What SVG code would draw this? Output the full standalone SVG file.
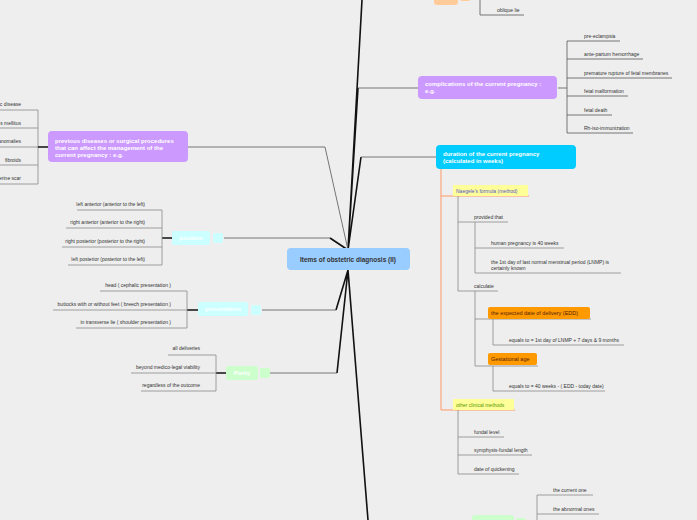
<svg xmlns="http://www.w3.org/2000/svg" width="697" height="520" viewBox="0 0 697 520">
<style>
text{font-family:"Liberation Sans",Arial,sans-serif;font-size:5px;fill:#333}
.w{fill:#fff;font-weight:bold;font-size:6px}
.l{fill:none;stroke:#555;stroke-width:0.8}
.g{fill:none;stroke:#888;stroke-width:0.8}
.d{fill:none;stroke:#111;stroke-width:1.6}
.o{fill:none;stroke:#ff9966;stroke-width:1}
.e{text-anchor:end}
</style>
<rect width="697" height="520" fill="#eeeeee"/>
<g id="connectors">
<path class="d" d="M348 250 L362 0 M348 250 L358 88 M348 250 L361 157 M348 250 L330 238 M348 270 L336 310 M348 270 L337 373 M348 270 L368 520"/>
<path class="l" d="M348 250 L325 147 L188 147 M330 238 L224 238 M336 310 L262 310 M337 373 L270 373 M358 88 L418 88 M361 157 L436 157"/>
<path class="l" d="M480 0 V15 H524"/>
<path class="l" d="M558 88 H567 M567 41 V133 M567 41 H620 M567 59 H643 M567 78 H672 M567 96 H628 M567 115 H612 M567 133 H633"/>
<path class="o" d="M441 169 V410 M441 196 H529 M441 410 H515"/>
<path class="g" d="M458 196 V291 M458 222 H508 M475 222 V273 M475 248 H564 M475 273 H621 M458 291 H498 M475 291 V366 M475 319 H591 M493 319 V345 M493 345 H624 M475 366 H538 M493 366 V391 M493 391 H605"/>
<path class="g" d="M458 410 V474 M458 437 H504 M458 455 H532 M458 474 H519"/>
<path class="g" d="M537 495 V520 M537 495 H593 M537 514 H599"/>
<path class="g" d="M38 110 V184 M0 110 H38 M0 128 H38 M0 147 H38 M0 165 H38 M0 184 H38"/>
<path class="d" d="M38 147 H48 M162 238 H172 M187 310 H198 M216 373 H226"/>
<path class="g" d="M162 210 V265 M77 210 H162 M66 228 H162 M62 247 H162 M68 265 H162"/>
<path class="g" d="M187 291 V328 M100 291 H187 M53 310 H187 M76 328 H187"/>
<path class="g" d="M216 355 V391 M168 355 H216 M131 373 H216 M141 391 H216"/>
</g>
<g id="center"><rect x="287" y="248" width="123" height="22" rx="4" fill="#99ccff"/><text x="348" y="262" text-anchor="middle" style="font-size:6.5px;font-weight:bold">Items of obstetric diagnosis (II)</text></g>
<g id="top"><rect x="434" y="-10" width="24" height="15" rx="3" fill="#ffcc99"/><rect x="460" y="-6" width="10" height="7" rx="2" fill="#ffcc99"/><text x="497" y="12">oblique lie</text></g>
<g id="complications"><rect x="418" y="76" width="139" height="23" rx="4" fill="#cc99ff"/><text class="w" x="425" y="86">complications of the current pregnancy :</text><text class="w" x="425" y="93">e.g.</text>
<text x="584" y="38">pre-eclampsia</text><text x="584" y="56">ante-partum hemorrhage</text><text x="584" y="75">premature rupture of fetal membranes</text><text x="584" y="93">fetal malformation</text><text x="584" y="112">fetal death</text><text x="584" y="130">Rh-iso-immunization</text></g>
<g id="duration"><rect x="436" y="145" width="140" height="24" rx="4" fill="#00ccff"/><text class="w" x="443" y="156">duration of the current pregnancy</text><text class="w" x="443" y="163">(calculated in weeks)</text></g>
<g id="naegele"><rect x="453" y="185" width="75" height="11" fill="#ffff99"/><text x="456" y="193" style="fill:#5555cc">Naegele's formula (method)</text>
<text x="474" y="219">provided that</text><text x="491" y="245">human pregnancy is 40 weeks</text><text x="491" y="264">the 1st day of last normal menstrual period (LNMP) is</text><text x="491" y="270">certainly known</text><text x="474" y="288">calculate</text>
<rect x="488" y="307" width="102" height="12" rx="2" fill="#ff9900"/><text x="491" y="315" style="font-size:5.5px;fill:#552200">the expected date of delivery (EDD)</text><text x="509" y="342">equals to = 1st day of LNMP + 7 days &amp; 9 months</text>
<rect x="488" y="353" width="49" height="12" rx="2" fill="#ff9900"/><text x="491" y="361" style="font-size:5.5px;fill:#552200">Gestational age</text><text x="509" y="388">equals to = 40 weeks - ( EDD - today date)</text></g>
<g id="other"><rect x="453" y="399" width="61" height="11" fill="#ffff99"/><text x="456" y="407" style="fill:#559900">other clinical methods</text><text x="474" y="434">fundal level</text><text x="474" y="452">symphysis-fundal length</text><text x="474" y="471">date of quickening</text></g>
<g id="bottom"><rect x="472" y="515" width="42" height="12" rx="3" fill="#ccffcc"/><rect x="516" y="518" width="10" height="8" rx="2" fill="#ccffcc"/><text x="553" y="492">the current one</text><text x="553" y="511">the abnormal ones</text></g>
<g id="previous"><rect x="48" y="131" width="140" height="31" rx="4" fill="#cc99ff"/><text class="w" x="55" y="143">previous diseases or surgical procedures</text><text class="w" x="55" y="150">that can affect the management of the</text><text class="w" x="55" y="157">current pregnancy : e.g.</text>
<text class="e" x="21" y="106">cardiac disease</text><text class="e" x="21" y="125">diabetes mellitus</text><text class="e" x="21" y="143">uterine anomalies</text><text class="e" x="21" y="162">fibroids</text><text class="e" x="21" y="180">uterine scar</text></g>
<g id="position"><rect x="172" y="231" width="38" height="14" rx="2" fill="#ccffff"/><text class="w" x="191" y="240" text-anchor="middle">position</text><rect x="213" y="233" width="10" height="10" rx="2" fill="#ccffff"/>
<text class="e" x="145" y="206">left anterior (anterior to the left)</text><text class="e" x="145" y="224">right anterior (anterior to the right)</text><text class="e" x="145" y="243">right posterior (posterior to the right)</text><text class="e" x="145" y="261">left posterior (posterior to the left)</text></g>
<g id="presentation"><rect x="198" y="302" width="50" height="14" rx="2" fill="#ccffff"/><text class="w" x="223" y="311" text-anchor="middle">presentation</text><rect x="251" y="305" width="10" height="10" rx="2" fill="#ccffff"/>
<text class="e" x="171" y="287">head ( cephalic presentation )</text><text class="e" x="171" y="306">buttocks with or without feet ( breech presentation )</text><text class="e" x="171" y="324">in transverse lie ( shoulder presentation )</text></g>
<g id="parity"><rect x="226" y="366" width="32" height="14" rx="2" fill="#ccffcc"/><text class="w" x="242" y="375" text-anchor="middle">Parity</text><rect x="260" y="368" width="10" height="10" rx="2" fill="#ccffcc"/>
<text class="e" x="200" y="350">all deliveries</text><text class="e" x="200" y="369">beyond medico-legal viability</text><text class="e" x="200" y="387">regardless of the outcome</text></g>
</svg>
